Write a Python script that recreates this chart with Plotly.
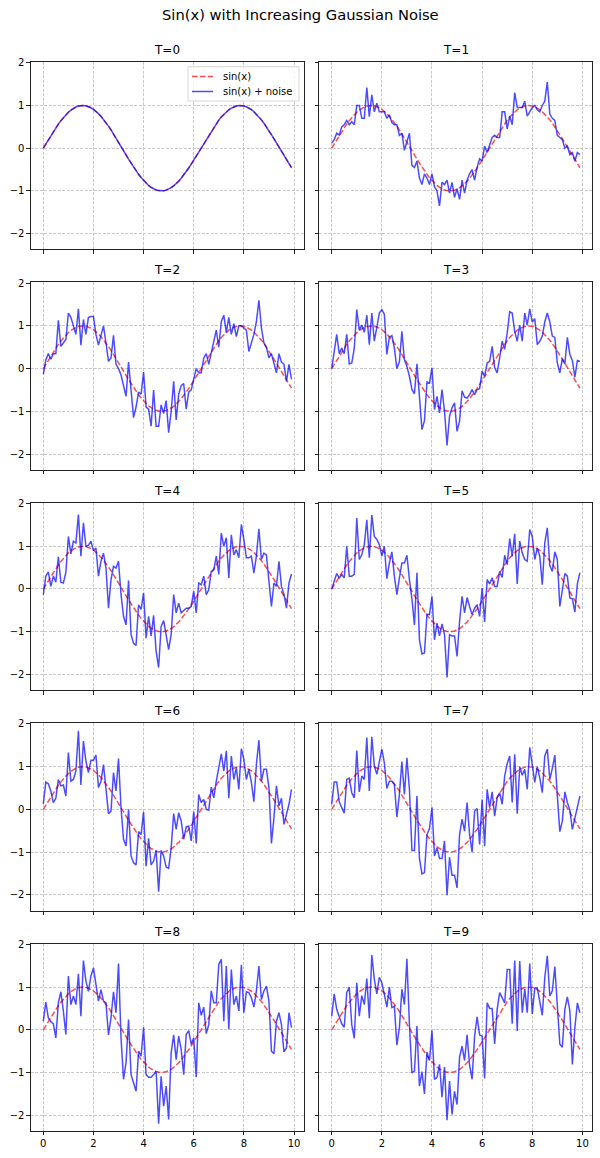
import numpy as np
import plotly.graph_objects as go

# x grid of the original (0.0 .. 9.9 step 0.1)
x = np.round(np.arange(100) * 0.1, 1)
sin_x = np.sin(x)

titles = ["T=%d" % t for t in range(10)]
legend_labels = ["sin(x)", "sin(x) + noise"]

# noisy series (T=0 has no noise)
noisy_1 = [0.12, 0.2, 0.35, 0.31, 0.5, 0.55, 0.65, 0.55, 0.62, 0.55,
           1.0, 1.0, 0.7, 0.7, 1.42, 0.74, 1.25, 0.85, 1.05, 0.85,
           0.85, 0.85, 0.7, 0.78, 0.6, 0.55, 0.55, 0.3, 0.35, -0.05,
           0.15, 0.35, -0.4, -0.45, -0.3, -0.7, -0.85, -0.6, -0.7, -0.85,
           -0.6, -0.9, -1.0, -1.35, -0.8, -0.85, -0.75, -1.05, -0.8, -1.15,
           -0.95, -1.2, -0.75, -1.05, -0.75, -0.6, -0.5, -0.75, -0.45, -0.25,
           -0.3, 0.05, -0.1, 0.1, 0.25, 0.3, 0.25, 0.25, 0.85, 0.85,
           0.45, 0.75, 0.55, 1.3, 0.95, 0.95, 0.95, 1.1, 0.75, 0.85,
           0.95, 1.0, 0.9, 0.85, 1.0, 1.1, 1.55, 0.8, 0.7, 0.65,
           0.3, 0.25, 0.2, 0.0, 0.05, -0.15, -0.1, -0.3, -0.1, -0.15]
noisy_2 = [-0.13, 0.2, 0.35, 0.22, 0.35, 0.35, 1.13, 0.52, 0.6, 0.68,
           1.3, 1.2, 1.0, 0.8, 1.4, 0.55, 1.15, 0.8, 1.2, 1.22,
           1.22, 0.8, 0.55, 0.8, 1.0, 0.6, 0.17, 0.25, 0.78, 0.1,
           0.0, -0.15, -0.4, -0.65, 0.15, -0.6, -1.15, -0.9, -0.55, -0.6,
           -0.08, -0.9, -0.95, -1.35, -0.5, -1.35, -1.35, -0.85, -1.05, -0.75,
           -1.5, -1.0, -0.3, -1.2, -0.6, -0.4, -0.35, -0.95, -0.55, -0.5,
           -0.25, 0.0, -0.1, -0.1, 0.25, 0.35, 0.1, 0.35, 0.6, 0.9,
           0.5, 1.1, 1.25, 0.85, 1.2, 0.8, 1.05, 0.75, 1.0, 1.0,
           0.95, 0.9, 0.4, 0.6, 0.8, 1.1, 1.6, 0.95, 0.6, 0.5,
           0.25, 0.35, 0.1, -0.1, 0.35, 0.15, 0.1, -0.3, 0.1, -0.25]
noisy_3 = [0.0, 0.4, 0.8, 0.35, 0.48, 0.35, 0.8, 0.11, 0.13, 0.47,
           1.38, 0.9, 1.02, 0.85, 1.25, 0.56, 1.3, 0.64, 0.95, 1.3,
           1.38, 1.27, 0.33, 0.74, 0.77, 0.48, 0.0, 0.16, 0.87, 0.21,
           0.05, -0.18, -0.49, -0.59, 0.11, -0.65, -1.43, -1.22, -0.31, -0.34,
           0.02, -0.96, -0.65, -1.04, -0.49, -1.0, -1.8, -1.12, -0.92, -0.8,
           -1.47, -1.23, -0.52, -0.67, -0.69, -0.61, -0.49, -0.61, -0.49, -0.47,
           -0.06, -0.18, 0.13, 0.17, 0.52, 0.02, -0.1, 0.25, 0.64, 0.45,
           0.83, 1.33, 1.3, 0.87, 0.64, 1.02, 0.64, 1.3, 1.02, 1.4,
           1.09, 1.17, 0.56, 0.64, 0.76, 1.09, 1.3, 1.09, 0.76, 0.73,
           0.13, -0.1, 0.23, 0.11, 0.73, 0.33, 0.19, -0.2, 0.19, 0.17]
noisy_4 = [-0.13, 0.3, 0.4, 0.06, 0.3, 0.16, 0.75, 0.16, 0.14, 0.39,
           1.23, 0.82, 1.12, 1.08, 1.74, 0.77, 1.55, 1.0, 1.02, 1.12,
           0.9, 0.96, 0.3, 0.65, 0.84, 0.49, -0.45, 0.22, 0.53, 0.49,
           0.65, -0.13, -0.64, -0.84, 0.2, -1.07, -1.27, -1.32, -0.37, -0.48,
           -0.09, -1.15, -0.64, -1.1, -0.62, -1.46, -1.84, -0.88, -0.74, -1.07,
           -1.42, -1.07, -0.13, -0.56, -0.33, -0.56, -0.51, -0.45, -0.45, -0.41,
           -0.05, -0.56, 0.14, 0.1, 0.3, -0.13, -0.02, 0.41, 0.45, 0.77,
           0.34, 1.31, 1.0, 1.2, 0.26, 1.27, 0.8, 0.92, 0.73, 1.51,
           1.16, 0.73, 0.73, 0.77, 0.37, 0.77, 1.41, 0.69, 0.84, 0.8,
           0.18, -0.41, 0.14, 0.06, 0.65, 0.06, -0.13, -0.45, 0.14, 0.35]
noisy_5 = [0.0, 0.18, 0.36, 0.26, 0.34, 0.26, 1.0, 0.3, 0.3, 0.34,
           1.66, 0.69, 0.8, 1.04, 1.62, 0.73, 1.73, 1.23, 1.16, 1.04,
           0.77, 1.0, 0.24, 0.61, 0.87, 0.3, -0.13, 0.26, 0.61, 0.61,
           0.79, 0.22, -0.23, -0.84, 0.38, -1.19, -1.52, -1.5, -0.59, -0.6,
           -0.17, -1.19, -0.8, -1.1, -0.82, -1.07, -2.07, -1.07, -1.1, -1.1,
           -1.58, -0.76, -0.17, -0.56, -0.2, -0.41, -0.6, -0.45, -0.37, -0.64,
           0.02, -0.77, 0.22, 0.12, 0.26, 0.06, 0.06, 0.41, 0.27, 0.79,
           0.57, 1.18, 0.77, 1.29, 0.12, 1.12, 0.84, 0.69, 0.65, 1.39,
           1.23, 0.69, 0.96, 0.77, 0.1, 1.08, 1.43, 0.55, 0.41, 0.87,
           0.69, -0.41, -0.05, 0.36, 0.3, -0.21, -0.23, -0.54, 0.12, 0.38]
noisy_6 = [0.13, 0.64, 0.6, 0.43, 0.16, 0.26, 0.7, 0.55, 0.57, 0.31,
           1.33, 0.66, 0.7, 0.9, 1.84, 0.57, 1.6, 1.13, 0.86, 1.15,
           1.15, 1.27, 0.51, 0.66, 1.05, 0.55, -0.1, -0.04, 0.86, 0.43,
           1.19, 0.04, -0.7, -0.86, 0.0, -1.09, -1.25, -1.3, -0.52, -0.59,
           -0.06, -1.33, -0.68, -1.3, -1.21, -0.96, -1.93, -0.96, -1.09, -1.35,
           -1.38, -0.9, -0.1, -0.47, -0.08, -0.27, -0.7, -0.41, -0.39, -0.74,
           -0.05, -0.8, 0.35, 0.16, 0.23, 0.0, -0.02, 0.52, 0.27, 0.66,
           0.98, 1.3, 0.9, 1.37, 0.26, 1.25, 0.7, 0.98, 0.47, 1.42,
           1.17, 0.7, 0.94, 0.63, 0.18, 1.05, 1.62, 0.66, 0.94, 0.94,
           0.51, -0.8, -0.2, 0.55, 0.08, 0.26, -0.35, -0.12, 0.12, 0.47]
noisy_7 = [0.12, 0.64, 0.64, 0.18, 0.04, -0.09, 0.7, 0.73, 0.39, 0.27,
           1.38, 0.41, 0.78, 0.7, 1.68, 0.43, 1.7, 1.02, 0.82, 1.13,
           1.41, 1.09, 0.49, 0.66, 0.66, 0.59, -0.18, 0.35, 1.12, 0.35,
           1.21, 0.47, -0.96, -0.96, 0.31, -1.15, -1.51, -1.48, -0.59, -0.45,
           0.05, -1.09, -0.9, -1.15, -1.15, -0.74, -2.01, -1.12, -1.54, -1.54,
           -1.84, -0.59, -0.23, -0.51, 0.16, -0.59, -1.0, -0.04, 0.02, -0.82,
           0.23, -0.86, 0.47, 0.04, 0.41, -0.16, 0.27, 0.39, 0.12, 0.78,
           1.07, 1.25, 0.16, 1.29, -0.1, 1.0, 0.8, 0.94, 0.47, 1.45,
           1.0, 0.63, 1.0, 0.74, 0.39, 1.25, 1.41, 0.7, 0.96, 1.27,
           0.31, -0.52, -0.27, 0.41, 0.16, -0.02, -0.47, -0.2, 0.05, 0.31]
noisy_8 = [0.2, 0.65, 0.28, 0.19, 0.14, -0.19, 0.63, 0.89, 0.44, -0.11,
           1.26, 0.59, 0.79, 0.59, 1.31, 0.32, 1.62, 1.14, 0.9, 1.26,
           1.45, 1.02, 0.67, 0.94, 0.67, 0.63, -0.12, 0.28, 0.89, 0.4,
           1.55, -0.19, -1.16, -0.77, 0.24, -1.05, -1.24, -1.44, -0.5, -0.62,
           0.06, -1.05, -1.11, -1.11, -1.05, -0.97, -2.2, -1.09, -1.79, -1.32,
           -2.1, -0.54, -0.12, -0.7, -0.15, -0.46, -1.05, -0.11, -0.02, -0.34,
           -0.19, -1.11, 0.63, 0.34, 0.53, -0.09, 0.12, 0.91, 0.63, 0.63,
           1.53, 1.65, 0.2, 1.49, 0.01, 1.41, 0.59, 0.79, 0.44, 1.52,
           0.4, 0.89, 0.87, 0.75, 0.53, 0.91, 1.49, 0.71, 0.91, 1.02,
           0.67, -0.5, -0.56, 0.2, 0.4, 0.12, -0.52, -0.42, 0.4, 0.05]
noisy_9 = [0.32, 0.84, 0.48, 0.28, 0.14, 0.06, 0.87, 1.0, 0.12, -0.2,
           1.1, 0.32, 0.8, 0.59, 1.2, 0.27, 1.75, 1.18, 0.84, 1.23,
           1.1, 0.83, 0.53, 1.0, 0.52, 0.55, -0.36, 0.05, 0.95, 0.59,
           1.66, 0.12, -1.01, -0.97, 0.09, -1.32, -0.98, -1.5, -0.52, -0.72,
           -0.02, -1.16, -1.12, -0.81, -1.58, -0.87, -2.12, -1.2, -1.98, -1.44,
           -1.75, -0.64, -0.38, -0.72, -0.12, -0.83, -1.16, -0.15, 0.3, -0.12,
           -0.15, -1.14, 0.63, 0.5, 0.5, -0.33, 0.48, 0.87, 0.75, 0.63,
           1.41, 1.41, 0.14, 1.62, -0.03, 1.61, 0.4, 0.95, 0.4, 1.55,
           0.37, 0.98, 0.98, 0.67, 0.34, 1.22, 1.73, 0.79, 0.91, 1.48,
           0.44, -0.34, -0.41, 0.48, 0.77, 0.44, -0.81, 0.05, 0.63, 0.4]

noisy = [sin_x, noisy_1, noisy_2, noisy_3, noisy_4,
         noisy_5, noisy_6, noisy_7, noisy_8, noisy_9]

x_ticks = [0, 2, 4, 6, 8, 10]
y_ticks = [-2, -1, 0, 1, 2]

W, H = 600, 1158
row_tops = [61.9, 282.3, 502.7, 723.1, 943.5]
row_h = 187.5
col_x = [(30.9, 303.9), (319.3, 592.3)]

font = "DejaVu Sans"
red = "rgba(255,0,0,0.7)"
blue = "rgba(0,0,255,0.7)"
red_dash = "5.5px,2.4px"


def px_x(p):
    return p / W


def px_y(p):
    return 1 - p / H


fig = go.Figure()
annotations = []
shapes = []

for k in range(10):
    r, c = divmod(k, 2)
    sfx = "" if k == 0 else str(k + 1)
    fig.add_trace(go.Scatter(
        x=x, y=sin_x, mode="lines", name=legend_labels[0],
        line=dict(color=red, width=1.5, dash=red_dash),
        xaxis="x" + sfx, yaxis="y" + sfx, showlegend=False,
        hoverinfo="skip"))
    fig.add_trace(go.Scatter(
        x=x, y=noisy[k], mode="lines", name=legend_labels[1],
        line=dict(color=blue, width=1.5),
        xaxis="x" + sfx, yaxis="y" + sfx, showlegend=False,
        hoverinfo="skip"))

    top = row_tops[r]
    yd = [px_y(top + row_h), px_y(top)]
    xd = [px_x(col_x[c][0]), px_x(col_x[c][1])]
    common = dict(showline=True, linecolor="#222", linewidth=0.9, mirror=True,
                  ticks="outside", ticklen=3.5, tickwidth=0.8, tickcolor="#222",
                  showgrid=True, gridcolor="#c8c8c8", gridwidth=0.8,
                  griddash="3px,1.5px", zeroline=False, automargin=False,
                  tickfont=dict(family=font, size=10, color="black"))
    fig.layout["xaxis" + sfx] = dict(
        common, domain=xd, range=[-0.495, 10.395], tickvals=x_ticks,
        showticklabels=(r == 4), anchor="y" + sfx)
    fig.layout["yaxis" + sfx] = dict(
        common, domain=yd, range=[-2.37, 2.02], tickvals=y_ticks,
        ticktext=["\u22122", "\u22121", "0", "1", "2"],
        showticklabels=(c == 0), anchor="x" + sfx)

    annotations.append(dict(
        text=titles[k], x=(xd[0] + xd[1]) / 2, y=yd[1], xref="paper", yref="paper",
        xanchor="center", yanchor="bottom", yshift=3, showarrow=False,
        font=dict(family=font, size=12, color="black")))

annotations.append(dict(
    text="Sin(x) with Increasing Gaussian Noise", x=0.5, y=px_y(14.5),
    xref="paper", yref="paper", xanchor="center", yanchor="middle",
    showarrow=False, font=dict(family=font, size=14.7, color="black")))

# matplotlib-style legend box inside the T=0 panel
shapes.append(dict(type="rect", xref="paper", yref="paper",
                   x0=px_x(188), x1=px_x(299), y0=px_y(101), y1=px_y(66.7),
                   fillcolor="rgba(255,255,255,0.8)",
                   line=dict(color="#d6d6d6", width=1), layer="above"))
for i, (lab, col, dash) in enumerate(zip(legend_labels, [red, blue], [red_dash, "solid"])):
    yy = px_y(76.5 + 15 * i)
    shapes.append(dict(type="line", xref="paper", yref="paper",
                       x0=px_x(192), x1=px_x(213), y0=yy, y1=yy,
                       line=dict(color=col, width=1.5, dash=dash), layer="above"))
    annotations.append(dict(
        text=lab, x=px_x(221), y=yy, xref="paper", yref="paper",
        xanchor="left", yanchor="middle", showarrow=False,
        font=dict(family=font, size=10, color="black")))

fig.update_layout(
    width=W, height=H,
    margin=dict(l=0, r=0, t=0, b=0),
    paper_bgcolor="white", plot_bgcolor="white",
    annotations=annotations,
    shapes=shapes,
    showlegend=False,
    font=dict(family=font),
)

# the page body has a default 8px margin; drop it so the figure fills the window
fig.write_html("out.html", config={"displayModeBar": False},
               post_script="document.body.style.margin='0';")
